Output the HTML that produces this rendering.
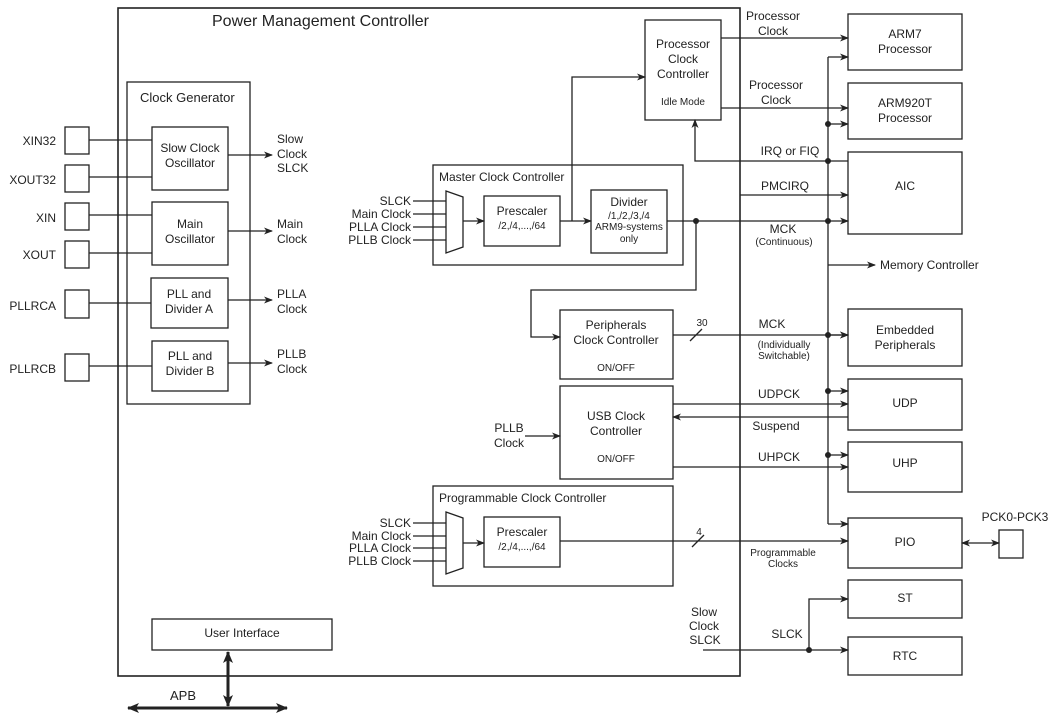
<!DOCTYPE html>
<html><head><style>body{margin:0;background:#fff}svg{display:block}text{font-family:"Liberation Sans",sans-serif;fill:#222}</style></head><body>
<svg width="1058" height="720" viewBox="0 0 1058 720" xmlns="http://www.w3.org/2000/svg">
<defs><marker id="a" markerWidth="9" markerHeight="7" refX="8" refY="3.5" orient="auto-start-reverse" markerUnits="userSpaceOnUse"><path d="M0,0 L9,3.5 L0,7 L2.5,3.5 z" fill="#222"/></marker>
<marker id="b" markerWidth="12" markerHeight="10" refX="11" refY="5" orient="auto-start-reverse" markerUnits="userSpaceOnUse"><path d="M0,0 L12,5 L0,10 L3,5 z" fill="#222"/></marker></defs>
<g fill="none" stroke="#222" stroke-width="1.3">
<rect x="118" y="8" width="622" height="668" stroke-width="1.6"/>
<rect x="127" y="82" width="123" height="322"/>
<rect x="65" y="127" width="24" height="27"/><rect x="65" y="165" width="24" height="27"/>
<rect x="65" y="203" width="24" height="27"/><rect x="65" y="241" width="24" height="27"/>
<rect x="65" y="290" width="24" height="28"/><rect x="65" y="354" width="24" height="27"/>
<rect x="152" y="127" width="76" height="63"/><rect x="152" y="202" width="76" height="63"/>
<rect x="151" y="278" width="77" height="50"/><rect x="152" y="341" width="76" height="50"/>
<path d="M89 140H152M89 177H152M89 215H152M89 253H152M89 303H151M89 366H152"/>
<g marker-end="url(#a)">
<path d="M228 155H272"/><path d="M228 231H272"/><path d="M228 300H272"/><path d="M228 363H272"/>
<path d="M463 221H484"/><path d="M560 221H591"/>
<path d="M572 221V77H645"/>
<path d="M721 38H848"/><path d="M721 108H848"/>
<path d="M848 161H695V120"/>
<path d="M740 195H848"/><path d="M667 221H848"/>
<path d="M828 57H848"/><path d="M828 124H848"/><path d="M828 265H875"/><path d="M828 335H848"/><path d="M828 391H848"/><path d="M828 455H848"/><path d="M828 524H848"/>
<path d="M696 221V290H531V337H560"/>
<path d="M673 335H848"/><path d="M673 404H848"/><path d="M673 467H848"/><path d="M525 436H560"/>
<path d="M848 417H673"/>
<path d="M463 543H484"/><path d="M560 541H848"/>
<path d="M962 543H999" marker-start="url(#a)"/>
<path d="M703 650H848"/><path d="M809 650V599H848"/>
</g>
<path d="M828 57V524"/>
<rect x="433" y="165" width="250" height="100"/>
<path d="M446 191L463 197V247L446 253Z"/>
<path d="M413 201H446M413 214H446M413 227H446M413 240H446"/>
<rect x="484" y="196" width="76" height="50"/><rect x="591" y="190" width="76" height="63"/>
<rect x="645" y="20" width="76" height="100"/>
<rect x="848" y="14" width="114" height="56"/><rect x="848" y="83" width="114" height="56"/>
<rect x="848" y="152" width="114" height="82"/><rect x="848" y="309" width="114" height="57"/>
<rect x="848" y="379" width="114" height="51"/><rect x="848" y="442" width="114" height="50"/>
<rect x="848" y="518" width="114" height="50"/><rect x="848" y="580" width="114" height="38"/>
<rect x="848" y="637" width="114" height="38"/>
<rect x="560" y="310" width="113" height="69"/><rect x="560" y="386" width="113" height="93"/>
<path d="M690 341L702 329M692 547L704 535"/>
<rect x="433" y="486" width="240" height="100"/>
<path d="M446 512L463 518V568L446 574Z"/>
<path d="M413 523H446M413 536H446M413 548H446M413 561H446"/>
<rect x="484" y="517" width="76" height="50"/>
<rect x="999" y="530" width="24" height="28"/>
<rect x="152" y="619" width="180" height="31"/>
<path d="M228 652V706" stroke-width="3" marker-end="url(#b)" marker-start="url(#b)"/>
<path d="M128 708H287" stroke-width="3" marker-end="url(#b)" marker-start="url(#b)"/>
</g>
<g fill="#222"><circle cx="696" cy="221" r="3"/><circle cx="828" cy="124" r="3"/><circle cx="828" cy="161" r="3"/><circle cx="828" cy="221" r="3"/><circle cx="828" cy="335" r="3"/><circle cx="828" cy="391" r="3"/><circle cx="828" cy="455" r="3"/><circle cx="809" cy="650" r="3"/></g>
<g font-size="12">
<text x="212" y="26" font-size="16">Power Management Controller</text>
<text x="140" y="102" font-size="13">Clock Generator</text>
<g text-anchor="end"><text x="56" y="145">XIN32</text><text x="56" y="184">XOUT32</text><text x="56" y="222">XIN</text><text x="56" y="259">XOUT</text><text x="56" y="310">PLLRCA</text><text x="56" y="373">PLLRCB</text>
<text x="411" y="205">SLCK</text><text x="411" y="218">Main Clock</text><text x="411" y="231">PLLA Clock</text><text x="411" y="244">PLLB Clock</text>
<text x="411" y="527">SLCK</text><text x="411" y="540">Main Clock</text><text x="411" y="552">PLLA Clock</text><text x="411" y="565">PLLB Clock</text></g>
<g text-anchor="middle">
<text x="190" y="152">Slow Clock</text><text x="190" y="167">Oscillator</text>
<text x="190" y="228">Main</text><text x="190" y="243">Oscillator</text>
<text x="189" y="298">PLL and</text><text x="189" y="313">Divider A</text>
<text x="190" y="360">PLL and</text><text x="190" y="375">Divider B</text>
<text x="522" y="215">Prescaler</text><text x="522" y="229" font-size="10">/2,/4,...,/64</text>
<text x="629" y="206">Divider</text><text x="629" y="219" font-size="10">/1,/2,/3,/4</text><text x="629" y="230" font-size="10">ARM9-systems</text><text x="629" y="242" font-size="10">only</text>
<text x="522" y="536">Prescaler</text><text x="522" y="550" font-size="10">/2,/4,...,/64</text>
<text x="683" y="48">Processor</text><text x="683" y="63">Clock</text><text x="683" y="78">Controller</text><text x="683" y="105" font-size="10">Idle Mode</text>
<text x="616" y="329">Peripherals</text><text x="616" y="344">Clock Controller</text><text x="616" y="371" font-size="10">ON/OFF</text>
<text x="616" y="420">USB Clock</text><text x="616" y="435">Controller</text><text x="616" y="462" font-size="10">ON/OFF</text>
<text x="905" y="38">ARM7</text><text x="905" y="53">Processor</text><text x="905" y="107">ARM920T</text><text x="905" y="122">Processor</text>
<text x="905" y="190">AIC</text><text x="905" y="334">Embedded</text><text x="905" y="349">Peripherals</text>
<text x="905" y="407">UDP</text><text x="905" y="467">UHP</text><text x="905" y="546">PIO</text><text x="905" y="602">ST</text><text x="905" y="660">RTC</text>
<text x="242" y="637">User Interface</text>
<text x="773" y="20">Processor</text><text x="773" y="35">Clock</text><text x="776" y="89">Processor</text><text x="776" y="104">Clock</text>
<text x="790" y="155">IRQ or FIQ</text><text x="785" y="190">PMCIRQ</text><text x="783" y="233">MCK</text><text x="784" y="245" font-size="10">(Continuous)</text>
<text x="772" y="328">MCK</text><text x="784" y="348" font-size="10">(Individually</text><text x="784" y="359" font-size="10">Switchable)</text>
<text x="779" y="398">UDPCK</text><text x="776" y="430">Suspend</text><text x="779" y="461">UHPCK</text>
<text x="783" y="556" font-size="10">Programmable</text><text x="783" y="567" font-size="10">Clocks</text>
<text x="702" y="326" font-size="10">30</text><text x="699" y="535" font-size="10">4</text>
<text x="1015" y="521">PCK0-PCK3</text>
<text x="704" y="616">Slow</text><text x="704" y="630">Clock</text><text x="705" y="644">SLCK</text><text x="787" y="638">SLCK</text>
<text x="509" y="432">PLLB</text><text x="509" y="447">Clock</text>
<text x="183" y="700" font-size="13">APB</text>
</g>
<text x="439" y="181">Master Clock Controller</text>
<text x="439" y="502">Programmable Clock Controller</text>
<text x="277" y="143">Slow</text><text x="277" y="158">Clock</text><text x="277" y="172">SLCK</text>
<text x="277" y="228">Main</text><text x="277" y="243">Clock</text>
<text x="277" y="298">PLLA</text><text x="277" y="313">Clock</text>
<text x="277" y="358">PLLB</text><text x="277" y="373">Clock</text>
<text x="880" y="269">Memory Controller</text>
</g>
</svg>
</body></html>
